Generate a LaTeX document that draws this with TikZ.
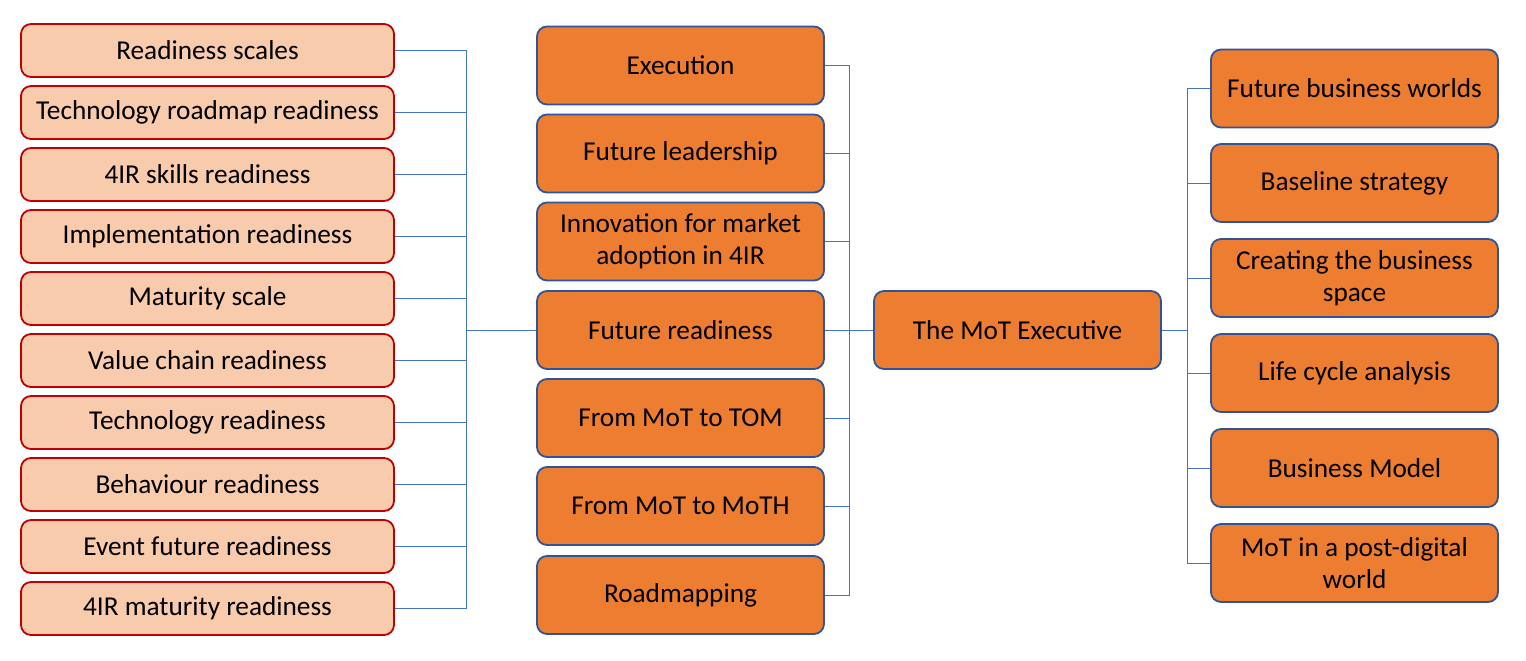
\documentclass[tikz,border=0pt]{standalone}
\usepackage{fontspec}
\setmainfont{Carlito}
\usepackage{tikz}
\usetikzlibrary{positioning}
\definecolor{peachfill}{RGB}{248,203,173}
\definecolor{peachline}{RGB}{192,0,0}
\definecolor{motorange}{RGB}{237,125,49}
\definecolor{motblue}{RGB}{47,85,151}
\definecolor{linkblue}{RGB}{68,114,196}
\tikzset{
  block/.style={rectangle, rounded corners=0.25cm, draw, line width=1.3pt,
    align=center, font=\fontsize{19.4}{23}\selectfont, inner sep=2pt},
  readyblock/.style={block, fill=peachfill, draw=peachline,
    minimum width=9.325cm, minimum height=1.325cm},
  motblock/.style={block, fill=motorange, draw=motblue,
    minimum width=7.175cm, minimum height=1.95cm},
  link/.style={draw=linkblue, line width=0.7pt},
}
\begin{document}
\begin{tikzpicture}
  \useasboundingbox (0,0) rectangle (38.15,-16.5);

  % Readiness column
  \node[readyblock] (l1) at (5.1875,-1.2625) {Readiness scales};
  \node[readyblock] (l2) at (5.1875,-2.8125) {Technology roadmap readiness};
  \node[readyblock] (l3) at (5.1875,-4.3625) {4IR skills readiness};
  \node[readyblock] (l4) at (5.1875,-5.9125) {Implementation readiness};
  \node[readyblock] (l5) at (5.1875,-7.4625) {Maturity scale};
  \node[readyblock] (l6) at (5.1875,-9.0125) {Value chain readiness};
  \node[readyblock] (l7) at (5.1875,-10.5625) {Technology readiness};
  \node[readyblock] (l8) at (5.1875,-12.1125) {Behaviour readiness};
  \node[readyblock] (l9) at (5.1875,-13.6625) {Event future readiness};
  \node[readyblock] (l10) at (5.1875,-15.2125) {4IR maturity readiness};

  % Middle column
  \node[motblock] (m1) at (17.0125,-1.6375) {Execution};
  \node[motblock] (m2) at (17.0125,-3.8375) {Future leadership};
  \node[motblock] (m3) at (17.0125,-6.0375) {Innovation for market\\adoption in 4IR};
  \node[motblock] (m4) at (17.0125,-8.25) {Future readiness};
  \node[motblock] (m5) at (17.0125,-10.45) {From MoT to TOM};
  \node[motblock] (m6) at (17.0125,-12.65) {From MoT to MoTH};
  \node[motblock] (m7) at (17.0125,-14.875) {Roadmapping};

  % Root
  \node[motblock] (exec) at (25.4375,-8.25) {The MoT Executive};

  % Right column
  \node[motblock] (r1) at (33.8625,-2.2125) {Future business worlds};
  \node[motblock] (r2) at (33.8625,-4.575) {Baseline strategy};
  \node[motblock] (r3) at (33.8625,-6.95) {Creating the business\\space};
  \node[motblock] (r4) at (33.8625,-9.325) {Life cycle analysis};
  \node[motblock] (r5) at (33.8625,-11.7) {Business Model};
  \node[motblock] (r6) at (33.8625,-14.075) {MoT in a post-digital\\world};

  % Buses
  \coordinate (lbus) at (11.65,-8.25);
  \coordinate (mbus) at (21.225,-8.25);
  \coordinate (rbus) at (29.675,-8.25);

  % Connectors
  \draw[link] (l1.east) -| (lbus); \draw[link] (l2.east) -| (lbus);
  \draw[link] (l3.east) -| (lbus); \draw[link] (l4.east) -| (lbus);
  \draw[link] (l5.east) -| (lbus); \draw[link] (l6.east) -| (lbus);
  \draw[link] (l7.east) -| (lbus); \draw[link] (l8.east) -| (lbus);
  \draw[link] (l9.east) -| (lbus); \draw[link] (l10.east) -| (lbus);
  \draw[link] (lbus) -- (m4.west);

  \draw[link] (m1.east) -| (mbus); \draw[link] (m2.east) -| (mbus);
  \draw[link] (m3.east) -| (mbus); \draw[link] (m4.east) -| (mbus);
  \draw[link] (m5.east) -| (mbus); \draw[link] (m6.east) -| (mbus);
  \draw[link] (m7.east) -| (mbus);
  \draw[link] (mbus) -- (exec.west);

  \draw[link] (exec.east) -- (rbus);
  \draw[link] (rbus) |- (r1.west); \draw[link] (rbus) |- (r2.west);
  \draw[link] (rbus) |- (r3.west); \draw[link] (rbus) |- (r4.west);
  \draw[link] (rbus) |- (r5.west); \draw[link] (rbus) |- (r6.west);
\end{tikzpicture}
\end{document}
